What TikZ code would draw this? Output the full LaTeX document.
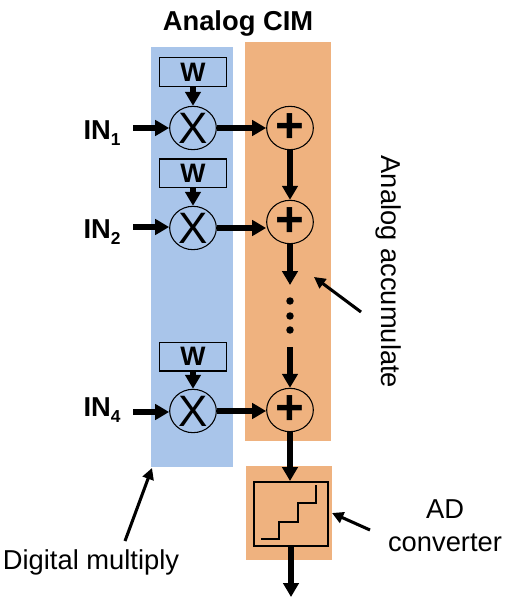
\documentclass[tikz,border=0pt]{standalone}
\usepackage{fontspec}
\setmainfont{Liberation Sans}
\usetikzlibrary{arrows.meta,shapes.geometric}
\definecolor{multblue}{HTML}{A9C5EA}
\definecolor{accorange}{HTML}{EFB27F}
\tikzset{
    bandbox/.style={draw=none,inner sep=0pt,anchor=north west},
    wbox/.style={draw,line width=1pt,inner sep=0pt,minimum width=50pt,minimum height=21.5pt,font=\fontsize{20}{20}\selectfont\bfseries},
    multnode/.style={ellipse,draw,line width=0.8pt,inner sep=0pt,minimum width=35pt,minimum height=32.5pt,font=\fontsize{33}{33}\selectfont},
    addnode/.style={ellipse,draw,line width=0.8pt,inner sep=0pt,minimum width=35pt,minimum height=32.5pt,font=\fontsize{37}{37}\selectfont\bfseries},
    inlabel/.style={font=\fontsize{20.5}{20.5}\selectfont\bfseries},
    notelabel/.style={font=\fontsize{20.5}{25}\selectfont,align=center},
    fatarrow/.style={-{Triangle[length=10.5pt,width=11.5pt]},line width=3.8pt},
    notearrow/.style={-{Triangle[length=8.5pt,width=8.5pt]},line width=2.3pt},
}
\newcommand{\insub}[1]{IN\raisebox{-5pt}{\fontsize{13}{13}\selectfont #1}}
\begin{document}
\begin{tikzpicture}[x=0.75pt,y=-0.75pt]
    \useasboundingbox (0,0) rectangle (506,609);
    \node[bandbox,fill=multblue,minimum width=61.5pt,minimum height=315pt] (multband) at (151,47) {};
    \node[bandbox,fill=accorange,minimum width=64.5pt,minimum height=299.25pt] (accband) at (245,42) {};
    \node[bandbox,fill=accorange,minimum width=64.5pt,minimum height=70.5pt] (adcband) at (246,466) {};
    \node[font=\fontsize{20.5}{20.5}\selectfont\bfseries] (title) at (238,23) {Analog CIM};

    \node[wbox] (w1) at (193,72) {W};
    \node[wbox] (w2) at (193,173.5) {W};
    \node[wbox] (w4) at (193,356.5) {W};
    \node[multnode] (x1) at (193,128) {X};
    \node[multnode] (x2) at (193,228) {X};
    \node[multnode] (x4) at (193,411) {X};
    \node[addnode] (p1) at (290,128) {+};
    \node[addnode] (p2) at (290,222) {+};
    \node[addnode] (p4) at (290,410) {+};

    \node[inlabel] (in1) at (102,133) {\insub{1}};
    \node[inlabel] (in2) at (102,232) {\insub{2}};
    \node[inlabel] (in4) at (102,410) {\insub{4}};
    \coordinate (s1) at (133,128);
    \coordinate (s2) at (133,227);
    \coordinate (s4) at (133,412);
    \draw[fatarrow] (s1) -- (x1.west);
    \draw[fatarrow] (s2) -- (s2 -| x2.west);
    \draw[fatarrow] (s4) -- (s4 -| x4.west);
    \draw[fatarrow] (w1.south) -- (x1.north);
    \draw[fatarrow] (w2.south) -- (x2.north);
    \draw[fatarrow] (w4.south) -- (x4.north);
    \draw[fatarrow] (x1.east) -- (p1.west);
    \draw[fatarrow] (x2.east) -- (x2.east -| p2.west);
    \draw[fatarrow] (x4.east) -- (x4.east -| p4.west);

    \coordinate (gapin) at (290,285);
    \coordinate (gapout) at (290,347);
    \draw[fatarrow] (p1.south) -- (p2.north);
    \draw[fatarrow] (p2.south) -- (gapin);
    \draw[fatarrow] (gapout) -- (p4.north);
    \foreach \y in {301,316,330} {
        \fill (290,\y) circle (2.8pt);
    }

    \node[draw,line width=1.5pt,inner sep=0pt,minimum width=55.5pt,minimum height=48pt] (adc) at (291,514) {};
    \draw[line width=1.5pt] (261,539) -- (279,539) -- (279,522) -- (298,522) -- (298,503) -- (316,503) -- (316,485);
    \coordinate (out) at (291,597);
    \draw[fatarrow] (p4.south) -- (p4.south |- adc.north);
    \draw[fatarrow] (adc.south) -- (out);

    \node[notelabel,rotate=-90] (acclabel) at (389,272) {Analog accumulate};
    \node[notelabel] (adclabel) at (445,526) {AD\\converter};
    \node[notelabel] (multlabel) at (91,562) {Digital multiply};
    \coordinate (accfrom) at (361,312);
    \coordinate (accto) at (314,277);
    \coordinate (adcfrom) at (370,530);
    \coordinate (adcto) at (332,513);
    \coordinate (multfrom) at (125,541);
    \coordinate (multto) at (152,468);
    \draw[notearrow] (accfrom) -- (accto);
    \draw[notearrow] (adcfrom) -- (adcto);
    \draw[notearrow] (multfrom) -- (multto);
\end{tikzpicture}
\end{document}
